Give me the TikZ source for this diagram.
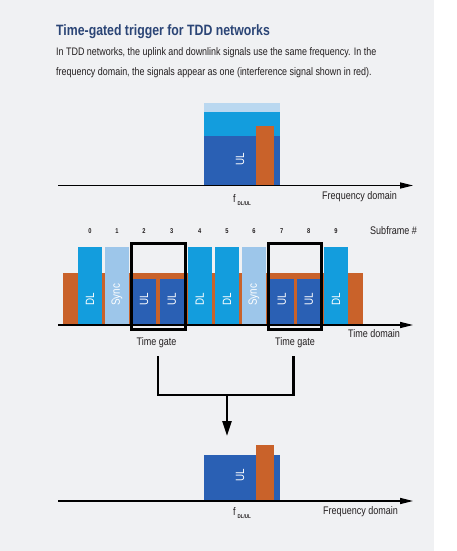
\documentclass[tikz,border=0pt]{standalone}
\usepackage{fontspec}
\setmainfont{Liberation Sans}[FakeStretch=0.82]
\usetikzlibrary{arrows.meta}
\definecolor{bgc}{HTML}{F0F1F3}
\definecolor{titlec}{HTML}{2B4576}
\definecolor{txtc}{HTML}{231F20}
\definecolor{dlc}{HTML}{139DDD}
\definecolor{syncc}{HTML}{9DC6EA}
\definecolor{ulc}{HTML}{2A60B4}
\definecolor{orc}{HTML}{C9622A}
\definecolor{ltc}{HTML}{BAD8F0}
\tikzset{
  blk/.style={rectangle, inner sep=0pt, outer sep=0pt, draw=none, anchor=north west},
  blklabel/.style={rotate=90, anchor=west, text=white, font=\fontsize{12}{12}\selectfont, inner sep=0pt},
  num/.style={font=\fontsize{7}{7}\selectfont\bfseries, text=txtc, inner sep=0pt},
  lbl/.style={font=\fontsize{11}{11}\selectfont, text=txtc, inner sep=0pt},
  axisline/.style={line width=1.3pt, -{Triangle[length=13pt,width=6pt]}},
  gatebox/.style={draw=black, line width=3pt, inner sep=0pt, fill=none, rectangle},
  conn/.style={line width=2.5pt},
  arrowconn/.style={line width=2.5pt, -{Triangle[length=15pt,width=9pt]}},
}
\newcommand{\fsub}{f\hspace{2pt}\raisebox{-3.5pt}{\fontsize{5.5}{5.5}\selectfont\bfseries DL/UL}}
\begin{document}
\begin{tikzpicture}[x=1pt,y=-1pt]
\useasboundingbox (0,0) rectangle (457,551);
\fill[bgc] (0,0) rectangle (434,551);

% title and description
\node[anchor=base west, inner sep=0pt, text=titlec, font=\fontsize{15}{15}\selectfont\bfseries] (title) at (56,36) {Time-gated trigger for TDD networks};
\node[anchor=base west, inner sep=0pt, text=txtc, font=\fontsize{10.9}{10.9}\selectfont] (desc1) at (56,56) {In TDD networks, the uplink and downlink signals use the same frequency. In the};
\node[anchor=base west, inner sep=0pt, text=txtc, font=\fontsize{10.9}{10.9}\selectfont] (desc2) at (56,75) {frequency domain, the signals appear as one (interference signal shown in red).};

% top spectrum
\node[blk, fill=ltc, minimum width=76, minimum height=9] (tlt) at (204,103) {};
\node[blk, fill=dlc, minimum width=76, minimum height=24] (tdl) at (204,112) {};
\node[blk, fill=ulc, minimum width=76, minimum height=50] (tul) at (204,136) {};
\node[blk, fill=orc, minimum width=18, minimum height=60] (tor) at (256,126) {};
\node[blklabel] (tull) at (240,166) {UL};
\coordinate (ta0) at (58,185.5);
\coordinate (ta1) at (413,185.5);
\draw[axisline] (ta0) -- (ta1);
\node[lbl, anchor=west] (tfd) at (322,197) {Frequency domain};
\node[lbl, anchor=west] (tf) at (233,200) {\fsub};

% time domain
\node[blk, fill=orc, minimum width=300, minimum height=52] (band) at (63,273) {};
\node[blk, fill=dlc, minimum width=24, minimum height=78] (b0) at (78,247) {};
\node[blk, fill=syncc, minimum width=24, minimum height=78] (b1) at (105,247) {};
\node[blk, fill=ulc, minimum width=24, minimum height=46] (b2) at (132,279) {};
\node[blk, fill=ulc, minimum width=23.5, minimum height=46] (b3) at (160,279) {};
\node[blk, fill=dlc, minimum width=23.5, minimum height=78] (b4) at (188,247) {};
\node[blk, fill=dlc, minimum width=24, minimum height=78] (b5) at (215,247) {};
\node[blk, fill=syncc, minimum width=24, minimum height=78] (b6) at (242,247) {};
\node[blk, fill=ulc, minimum width=23.5, minimum height=46] (b7) at (270,279) {};
\node[blk, fill=ulc, minimum width=23.5, minimum height=46] (b8) at (297,279) {};
\node[blk, fill=dlc, minimum width=24, minimum height=78] (b9) at (324,247) {};

\foreach \i/\t in {0/DL,1/Sync,2/UL,3/UL,4/DL,5/DL,6/Sync,7/UL,8/UL,9/DL}{
  \node[blklabel] (l\i) at (b\i.center |- 0,306) {\t};
  \node[num] (n\i) at (b\i.center |- 0,231) {\i};
}
\node[lbl, anchor=west] (sf) at (370,231) {Subframe \#};

\coordinate (xa0) at (58,325);
\coordinate (xa1) at (413,325);
\draw[axisline] (xa0) -- (xa1);
\node[lbl, anchor=west] (td) at (348,334) {Time domain};

\node[gatebox, minimum width=54, minimum height=86] (g1) at (158.5,286.5) {};
\node[gatebox, minimum width=53, minimum height=86] (g2) at (295,286.5) {};
\node[lbl] (tg1) at (156.5,343) {Time gate};
\node[lbl] (tg2) at (295,343) {Time gate};

\coordinate (join) at (227,395);
\coordinate (target) at (227,436);
\draw[conn] ([xshift=1.5pt,yshift=-8pt]tg1.south) |- (join) -| ([xshift=-1.5pt,yshift=-8pt]tg2.south);
\draw[arrowconn] (join) -- (target);

% bottom spectrum
\node[blk, fill=ulc, minimum width=76, minimum height=46] (bul) at (204,455) {};
\node[blk, fill=orc, minimum width=18, minimum height=56] (bor) at (256,445) {};
\node[blklabel] (bull) at (240,482) {UL};
\coordinate (ba0) at (58,501);
\coordinate (ba1) at (413,501);
\draw[axisline] (ba0) -- (ba1);
\node[lbl, anchor=west] (bfd) at (323,512) {Frequency domain};
\node[lbl, anchor=west] (bf) at (233,513) {\fsub};
\end{tikzpicture}
\end{document}
